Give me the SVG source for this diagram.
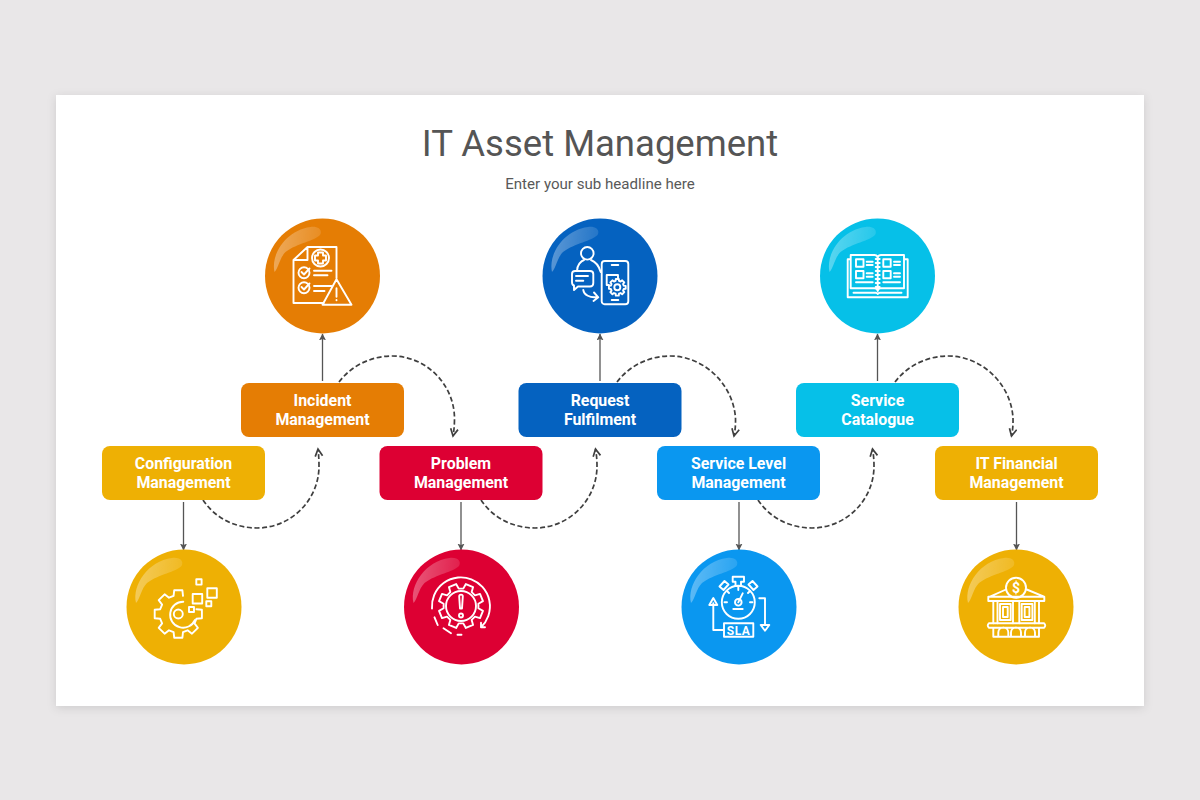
<svg xmlns="http://www.w3.org/2000/svg" xmlns:xlink="http://www.w3.org/1999/xlink" width="1200" height="800" viewBox="0 0 1200 800">
<style>
.title{font:400 36.500px Roboto,"Liberation Sans",sans-serif;fill:#555;text-anchor:middle}
.sub{font:400 15.100px Roboto,"Liberation Sans",sans-serif;fill:#595959;text-anchor:middle}
.lbl{font:700 15.900px Roboto,"Liberation Sans",sans-serif;fill:#fff;text-anchor:middle}
.solid{fill:none;stroke:#555;stroke-width:1.300;marker-end:url(#tri)}
.dash{fill:none;stroke:#3f3f3f;stroke-width:1.700;stroke-dasharray:5 2.600;marker-end:url(#vee)}
.ic{fill:none;stroke:#fff;stroke-width:1.900;stroke-linecap:round;stroke-linejoin:round}
.gear{vector-effect:non-scaling-stroke}
.ict{font-family:Roboto,"Liberation Sans",sans-serif;font-weight:700;fill:#fff;text-anchor:middle}
</style>
<defs>
<filter id="shadow" x="-3%" y="-3%" width="106%" height="108%"><feDropShadow dx="0" dy="2" stdDeviation="5" flood-color="#000" flood-opacity=".12"/></filter>
<filter id="soft" x="-10%" y="-10%" width="120%" height="120%"><feGaussianBlur stdDeviation=".7"/></filter>
<marker id="tri" markerUnits="userSpaceOnUse" markerWidth="8" markerHeight="8" refX="6.400" refY="3.500" orient="auto"><path d="M0 0L7 3.500L0 7L1.400 3.500Z" fill="#555"/></marker>
<marker id="vee" markerUnits="userSpaceOnUse" markerWidth="11" markerHeight="11" refX="8" refY="4.500" orient="auto"><path d="M.8 .8L8 4.500L.8 8.200" fill="none" stroke="#3f3f3f" stroke-width="1.700"/></marker>
<linearGradient id="gloss" x1="0" y1=".4" x2="1" y2=".5"><stop offset="0" stop-color="#fff" stop-opacity=".34"/><stop offset="1" stop-color="#fff" stop-opacity=".12"/></linearGradient>
<path id="shine" d="M-48 -4C-52 -22 -36 -46 -12 -49C-3 -50 0 -45 -2.500 -41C-8 -35 -25 -33 -37 -24C-43 -18 -44 -8 -48 -4Z" fill="url(#gloss)" filter="url(#soft)"/>
<polygon id="gearshape" class="gear" points="75.300,-20.200 98.500,-17.400 98.500,17.400 75.300,20.200 67.500,39 81.900,57.400 57.400,81.900 39,67.500 20.200,75.300 17.400,98.500 -17.400,98.500 -20.200,75.300 -39,67.500 -57.400,81.900 -81.900,57.400 -67.500,39 -75.300,20.200 -98.500,17.400 -98.500,-17.400 -75.300,-20.200 -67.500,-39 -81.900,-57.400 -57.400,-81.900 -39,-67.500 -20.200,-75.300 -17.400,-98.500 17.400,-98.500 20.200,-75.300 39,-67.500 57.400,-81.900 81.900,-57.400 67.500,-39"/>
</defs>
<rect width="1200" height="800" fill="#e9e7e8"/>
<rect x="56" y="95" width="1088" height="611" fill="#fff" filter="url(#shadow)"/>
<text class="title" x="600" y="156">IT Asset Management</text>
<text class="sub" x="600" y="189">Enter your sub headline here</text>
<g id="connectors">
<path class="solid" d="M322.500 381V334"/>
<path class="solid" d="M600 381V334"/>
<path class="solid" d="M877.500 381V334"/>
<path class="solid" d="M183.500 502V550"/>
<path class="solid" d="M461 502V550"/>
<path class="solid" d="M739 502V550"/>
<path class="solid" d="M1016.500 502V550"/>
<path class="dash" d="M339 382C351 366 371 356 392 356C426 356 454 384 454.500 418Q454.500 428 453 436"/>
<path class="dash" d="M617 382C629 366 649 356 670 356C704 356 733 384 735.500 418Q735.800 428 734 436"/>
<path class="dash" d="M895 382C907 366 927 356 948 356C982 356 1011 384 1013 418Q1013.300 428 1011.500 436"/>
<path class="dash" d="M203 500C215 518 235 528 257 528C291 528 319 500 319 466Q319 457 318 449"/>
<path class="dash" d="M481 500C493 518 513 528 535 528C569 528 597 500 597 466Q597 457 595.500 449"/>
<path class="dash" d="M758 500C770 518 790 528 812 528C846 528 874 500 874 466Q874 457 872.500 449"/>
</g>
<g id="node-incident">
<rect x="241" y="383" width="163" height="54" rx="8" fill="#e57d04"/>
<text class="lbl" x="322.500" y="406">Incident</text><text class="lbl" x="322.500" y="425">Management</text>
<g transform="translate(322.500 276)"><circle r="57.500" fill="#e57d04"/><use xlink:href="#shine" href="#shine"/>
<g class="ic"><path d="M1 27H-29V-16L-15 -29H14V2M-29 -16H-15V-29"/><circle cx="-2" cy="-18" r="8.500"/><path d="M-4.500 -23.500H0.500V-20.500H3.500V-15.500H0.500V-12.500H-4.500V-15.500H-7.500V-20.500H-4.500Z"/><circle cx="-18.500" cy="-3.300" r="5.500"/><circle cx="-18.500" cy="11.700" r="5.500"/><path d="M-21 -4L-18.500 -1.500L-13 -7.500M-21 11L-18.500 13.500L-13 7.500M-8.500 -5.300H9M-8.500 -.7H5M-8.500 10H9M-8.500 15H2M14 3.300L0 28.700H29ZM14 12.300V20.700M14 24V24.300"/></g></g>
</g>
<g id="node-request">
<rect x="518.500" y="383" width="163" height="54" rx="8" fill="#0562c0"/>
<text class="lbl" x="600" y="406">Request</text><text class="lbl" x="600" y="425">Fulfilment</text>
<g transform="translate(600 276)"><circle r="57.500" fill="#0562c0"/><use xlink:href="#shine" href="#shine"/>
<g class="ic"><circle cx="-12.700" cy="-22.700" r="6.300"/><path d="M-23 -5C-23 -11 -19 -15 -16 -16M-9 -16C-4 -14 -1 -10 0.700 -4"/><path d="M-25 -5H-10Q-6.700 -5 -6.700 -2V7Q-6.700 10.500 -10 10.500H-22L-26 14V9.500Q-28 9 -28 6V-2Q-28 -5 -25 -5Z"/><path d="M-24 0H-12M-24 4.700H-16.700M-16.700 14C-16 19 -10 22 -3 21M-6 16.500L-1.700 21.300L-6.500 25"/><rect x="1.700" y="-15" width="26.600" height="43.300" rx="3"/><path d="M11.700 -11H18.300M11.700 24H18.300M9 9H6.700V-1H18V3"/></g>
<use xlink:href="#gearshape" href="#gearshape" class="ic" transform="translate(17.300 11.300) scale(.085)"/><circle cx="17.300" cy="11.300" r="3" class="ic"/></g>
</g>
<g id="node-service-catalogue">
<rect x="796" y="383" width="163" height="54" rx="8" fill="#06c0e8"/>
<text class="lbl" x="877.500" y="406">Service</text><text class="lbl" x="877.500" y="425">Catalogue</text>
<g transform="translate(877.500 276)"><circle r="57.500" fill="#06c0e8"/><use xlink:href="#shine" href="#shine"/>
<g class="ic" stroke-linecap="butt"><path d="M-26.800 -16.700H-29.800V21.300H30.200V-16.700H26.500M-26.800 12.300V-21H-3C-1 -21 0 -20 0.200 -18C0.400 -20 1.400 -21 3.500 -21H26.500V12.300H3C1.500 12.300 0.500 13 0.200 15C0 13 -1 12.300 -3 12.300ZM-24 16.700H-2C-.5 16.700 0 17.500 .2 18C.5 17.500 1 16.700 2.500 16.700H24M.2 -18V15"/><rect x="-21.500" y="-16.700" width="7.500" height="7.400"/><rect x="-21.500" y="-5" width="7.500" height="7.300"/><rect x="5.800" y="-16.700" width="7.400" height="7.400"/><rect x="5.800" y="-5" width="7.400" height="7.300"/><path d="M-10.800 -14.300H-4.800M-10.800 -11H-4.800M-10.800 -2.700H-4.800M-10.800 .7H-4.800M16.500 -14.300H22.500M16.500 -11H22.500M16.500 -2.700H22.500M16.500 .7H22.500M-21.500 6.300H-4.800M5.800 6.300H22.500M-1.800 -17H2.200M-1.800 -13H2.200M-1.800 -9H2.200M-1.800 -5H2.200M-1.800 -1H2.200M-1.800 3H2.200M-1.800 7H2.200M-1.800 11H2.200"/></g></g>
</g>
<g id="node-configuration">
<rect x="102" y="446" width="163" height="54" rx="8" fill="#eeb004"/>
<text class="lbl" x="183.500" y="469">Configuration</text><text class="lbl" x="183.500" y="488">Management</text>
<g transform="translate(184 607)"><circle r="57.500" fill="#eeb004"/><use xlink:href="#shine" href="#shine"/>
<g class="ic"><path d="M12.400 2.200L17.900 2.800V11.200L12.400 11.800L10.500 16.400L13.900 20.800L8 26.700L3.600 23.300L-1 25.200L-1.600 30.700H-9.800L-10.400 25.200L-15 23.300L-19.400 26.700L-25.300 20.800L-21.900 16.400L-23.800 11.800L-29.300 11.200V2.800L-23.800 2.200L-21.900 -2.400L-25.300 -6.800L-19.400 -12.700L-15 -9.300L-10.400 -11.200L-9.800 -16.700H-1.600L-1 -11.200"/><path d="M-.7 -5.300A13 13 0 1 0 11 13"/><circle cx="-5.700" cy="7" r="4.500"/><rect x="12.300" y="-27.700" width="5.300" height="5.300"/><rect x="23.300" y="-18.700" width="9.500" height="9.500"/><rect x="8.700" y="-13" width="9.500" height="9.500"/><rect x="22.300" y="-5.700" width="5" height="5"/><rect x="5" y="0" width="5" height="5"/></g></g>
</g>
<g id="node-problem">
<rect x="379.500" y="446" width="163" height="54" rx="8" fill="#dd0033"/>
<text class="lbl" x="461" y="469">Problem</text><text class="lbl" x="461" y="488">Management</text>
<g transform="translate(461.500 607)"><circle r="57.500" fill="#dd0033"/><use xlink:href="#shine" href="#shine"/>
<use xlink:href="#gearshape" href="#gearshape" class="ic" transform="translate(-.5 -1) rotate(22.500) scale(.225)"/>
<g class="ic"><circle cx="-.5" cy="-1" r="15"/><path d="M-2.300 -10.500C-2.300 -13 1.300 -13 1.300 -10.500L.5 1.500H-1.500Z"/><circle cx="-.5" cy="8.500" r="2"/><path d="M-29.500 1.500A29 29 0 1 1 19.500 20.300M23.500 20.300H19.500V15.700M-27 10.300L-23.800 18M-18 21.300L-10.500 26.300M-4 27.700H0"/></g></g>
</g>
<g id="node-service-level">
<rect x="657" y="446" width="163" height="54" rx="8" fill="#0a97f0"/>
<text class="lbl" x="738.500" y="469">Service Level</text><text class="lbl" x="738.500" y="488">Management</text>
<g transform="translate(739 607)"><circle r="57.500" fill="#0a97f0"/><use xlink:href="#shine" href="#shine"/>
<g class="ic"><circle cx="-.7" cy="-4.700" r="16.500"/><path d="M-6.300 -30.300H5V-25.300H2V-21H-3.500V-25.300H-6.300ZM-.7 -21V-17M-.7 -4.700L3.700 -13.700M-5.700 2H3.700M-12 -4.700H-14.500M11 -4.700H13.500M-10 -14L-12 -16M9 -14L11 -16M-15.700 23H-25.700V-3.700M-29.700 -2H-21.700L-25.700 -9ZM20.300 -8.700H26V18M21.700 18H30.300L26 23.700Z"/><circle cx="-.7" cy="-4.700" r="3.300"/><path d="M-19.500 -20.500L-14.500 -26L-10.500 -22.500L-15.500 -17ZM18.500 -20.500L13.500 -26L9.500 -22.500L14.500 -17Z"/><rect x="-15" y="16.300" width="29.300" height="13.400"/></g>
<text class="ict" x="-.4" y="27.500" font-size="12" letter-spacing=".6">SLA</text></g>
</g>
<g id="node-it-financial">
<rect x="935" y="446" width="163" height="54" rx="8" fill="#eeb004"/>
<text class="lbl" x="1016.500" y="469">IT Financial</text><text class="lbl" x="1016.500" y="488">Management</text>
<g transform="translate(1016 607)"><circle r="57.500" fill="#eeb004"/><use xlink:href="#shine" href="#shine"/>
<g class="ic"><circle cx="0" cy="-19.300" r="10"/><path d="M-26 -10.300L-10 -17.500M10.700 -17.500L28 -10.300M-27.700 -10.300H28.300V-6H-27.700ZM-22.700 -6V16.300M23 -6V16.300M-18.500 -6V16.300M18.800 -6V16.300M-3 -6V16.300M3.300 -6V16.300"/><rect x="-16" y="-3" width="10.700" height="16"/><rect x="-13" y="0" width="4.700" height="10"/><rect x="5.700" y="-3" width="10.700" height="16"/><rect x="8.700" y="0" width="4.700" height="10"/><path d="M-27 16.300H28Q30.500 18.500 28 20.700H-27Q-29.500 18.500 -27 16.300ZM-22.700 20.700V29.700H23V20.700M-17.700 29.700V25.500A5 5 0 0 1 -7.700 25.500V29.700M-5 29.700V25.500A5 5 0 0 1 5 25.500V29.700M9 29.700V25.500A5 5 0 0 1 19 25.500V29.700"/></g>
<text class="ict" x="0" y="-14.500" font-size="14">$</text></g>
</g>
</svg>
